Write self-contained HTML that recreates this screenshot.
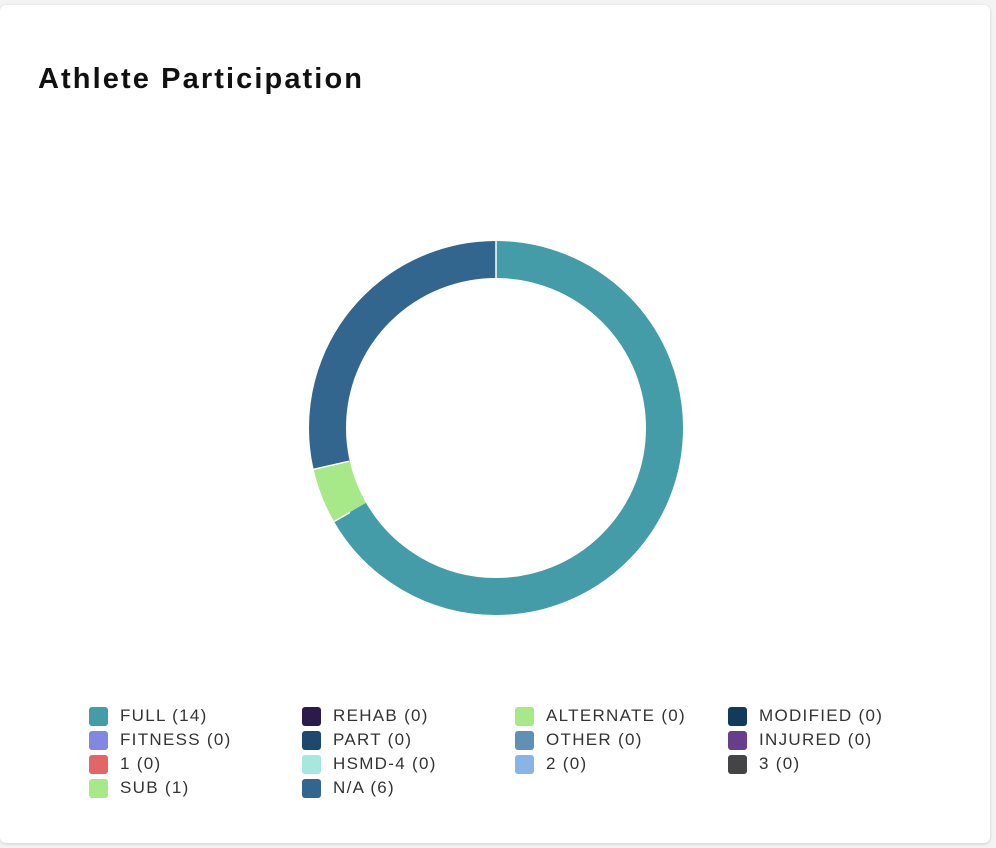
<!DOCTYPE html>
<html><head><style>
body{margin:0;width:996px;height:848px;background:#f3f3f3;font-family:"Liberation Sans",sans-serif;overflow:hidden;position:relative}
.card{position:absolute;left:0;top:5px;width:990px;height:838px;background:#fff;border-radius:6px;box-shadow:0 1px 3px rgba(0,0,0,.15)}
h1{position:absolute;left:38px;top:63px;margin:0;font-size:29px;font-weight:bold;color:#111;letter-spacing:2.1px}
.lg{position:absolute;font-size:17px;color:#333;line-height:20px;white-space:nowrap;letter-spacing:1.3px}
.lg i{position:absolute;left:0;top:1px;width:19px;height:19px;border-radius:3px}
.lg span{position:absolute;left:31px;top:0}
</style></head><body>
<div class="card"></div>
<h1>Athlete Participation</h1>
<svg width="996" height="848" style="position:absolute;left:0;top:0">
<g transform="rotate(-90 496 428)">
<circle cx="496" cy="428" r="168.5" fill="none" stroke="#449ca8" stroke-width="37" stroke-dasharray="705.8 1058.7"/>
<circle cx="496" cy="428" r="168.5" fill="none" stroke="#a7e888" stroke-width="37" stroke-dasharray="50.4 1058.7" stroke-dashoffset="-705.8"/>
<circle cx="496" cy="428" r="168.5" fill="none" stroke="#32668f" stroke-width="37" stroke-dasharray="302.5 1058.7" stroke-dashoffset="-756.2"/>
</g>
<line x1="496" y1="240" x2="496" y2="279" stroke="#fff" stroke-width="1.5"/>
<line x1="350.1" y1="512.3" x2="317.0" y2="531.4" stroke="#fff" stroke-width="1.5"/>
<line x1="349.2" y1="461.2" x2="311.9" y2="469.7" stroke="#fff" stroke-width="1.5"/>
</svg>
<div class="lg" style="left:89px;top:706px"><i style="background:#449ca8"></i><span>FULL (14)</span></div>
<div class="lg" style="left:89px;top:730px"><i style="background:#8088e0"></i><span>FITNESS (0)</span></div>
<div class="lg" style="left:89px;top:754px"><i style="background:#e46565"></i><span>1 (0)</span></div>
<div class="lg" style="left:89px;top:778px"><i style="background:#a7e888"></i><span>SUB (1)</span></div>
<div class="lg" style="left:302px;top:706px"><i style="background:#2c1a4a"></i><span>REHAB (0)</span></div>
<div class="lg" style="left:302px;top:730px"><i style="background:#1e4870"></i><span>PART (0)</span></div>
<div class="lg" style="left:302px;top:754px"><i style="background:#a8e6e0"></i><span>HSMD-4 (0)</span></div>
<div class="lg" style="left:302px;top:778px"><i style="background:#32668f"></i><span>N/A (6)</span></div>
<div class="lg" style="left:515px;top:706px"><i style="background:#a7e888"></i><span>ALTERNATE (0)</span></div>
<div class="lg" style="left:515px;top:730px"><i style="background:#6090b8"></i><span>OTHER (0)</span></div>
<div class="lg" style="left:515px;top:754px"><i style="background:#88b4e6"></i><span>2 (0)</span></div>
<div class="lg" style="left:728px;top:706px"><i style="background:#123a5a"></i><span>MODIFIED (0)</span></div>
<div class="lg" style="left:728px;top:730px"><i style="background:#663e8c"></i><span>INJURED (0)</span></div>
<div class="lg" style="left:728px;top:754px"><i style="background:#444446"></i><span>3 (0)</span></div>
</body></html>
